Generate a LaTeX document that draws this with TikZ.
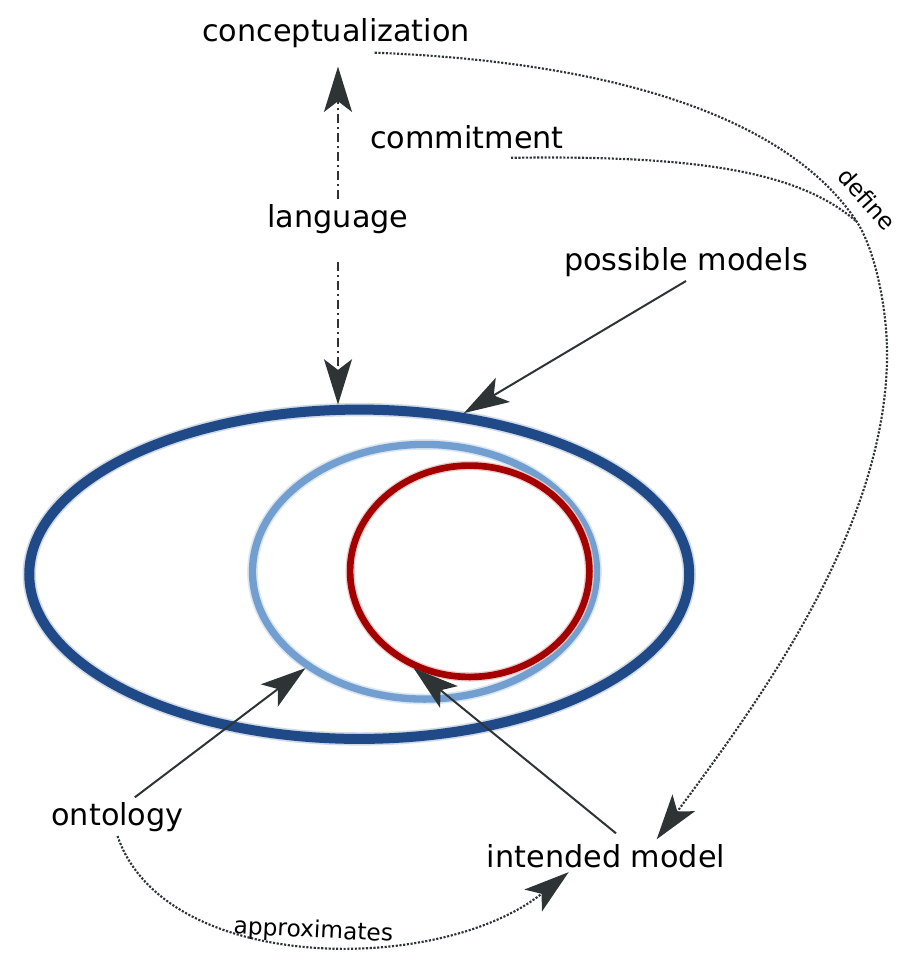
\documentclass[tikz,border=0pt]{standalone}
\usepackage{fontspec}
\setmainfont{DejaVu Sans}
\usetikzlibrary{arrows.meta,shapes.geometric}

\definecolor{skydark}{HTML}{204A87}
\definecolor{skylight}{HTML}{729FCF}
\definecolor{scarlet}{HTML}{A40000}
\definecolor{ink}{HTML}{2E3436}

\begin{document}
\begin{tikzpicture}[x=0.75pt,y=-0.75pt]
        \tikzset{term/.style = {font=\fontsize{22.7}{27}\selectfont}}
        \tikzset{note/.style = {font=\fontsize{17.5}{21}\selectfont}}
        \tikzset{region/.style = {shape=ellipse,draw,inner sep=0pt}}
        \tikzset{pointer/.style = {-{Stealth[length=34pt,width=21pt,inset=8pt]},draw=ink,line width=1.5pt}}
        \tikzset{relation/.style = {pointer,line width=1.6pt,dash pattern=on 1.6pt off 1.2pt}}
        \tikzset{link/.style = {pointer,dash pattern=on 6.75pt off 3pt on 1.5pt off 3pt}}

        \useasboundingbox (0,0) rectangle (906,971);

        % model sets
        \node[region, draw=skydark, line width=7.5pt, minimum width=495pt, minimum height=247pt,
              preaction={draw=skydark!20, line width=10pt}] (allModels) at (359.25,574.25) {};
        \node[region, draw=skylight, line width=5.5pt, minimum width=258pt, minimum height=191pt,
              preaction={draw=skylight!25, line width=8pt}] (ontoModels) at (424.5,571.75) {};
        \node[region, draw=scarlet, line width=5pt, minimum width=179.5pt, minimum height=158.5pt,
              preaction={draw=scarlet!20, line width=7pt}] (intModels) at (469.75,571.25) {};

        % terms
        \node[term, anchor=base] (concept) at (336,41.7) {conceptualization};
        \node[term, anchor=base] (commit) at (467,148) {commitment};
        \node[term, anchor=base] (lang) at (338,227) {language};
        \node[term, anchor=base] (possible) at (686,270) {possible models};
        \node[term, anchor=base] (ontology) at (117.5,825) {ontology};
        \node[term, anchor=base] (intended) at (606,867) {intended model};
        \node[note, rotate=-48] (define) at (867,199) {define};

        \coordinate (join) at (857,222);

        % arrows
        \draw[link, shorten >=10.4pt] (lang.north) -- (lang.north |- concept.south);
        \draw[link, shorten <=18pt] (lang.south) -- (lang.south |- allModels.north);
        \draw[pointer] (possible.south) -- (allModels.57);
        \draw[pointer] ([xshift=13pt]ontology.north) -- (ontoModels.219);
        \draw[pointer] ([xshift=7.5pt,yshift=4.5pt]intended.north) -- (intModels.240);

        \draw[relation, -] ([xshift=33pt,yshift=-3.5pt]commit.south) .. controls (700,155) and (800,172) .. (join);
        \draw[relation] ([xshift=29pt]concept.south) .. controls (620,62) and (790,120) .. (join)
            .. controls (875,250) and (888,310) .. (887,360)
            .. controls (884,530) and (760,700) .. ([xshift=38pt]intended.north);
        \draw[relation] (ontology.south) .. controls (165,975) and (440,975) .. ([xshift=-28pt]intended.south)
            node[note, midway, sloped, above, inner sep=1pt] (approx) {approximates};

\end{tikzpicture}
\end{document}
